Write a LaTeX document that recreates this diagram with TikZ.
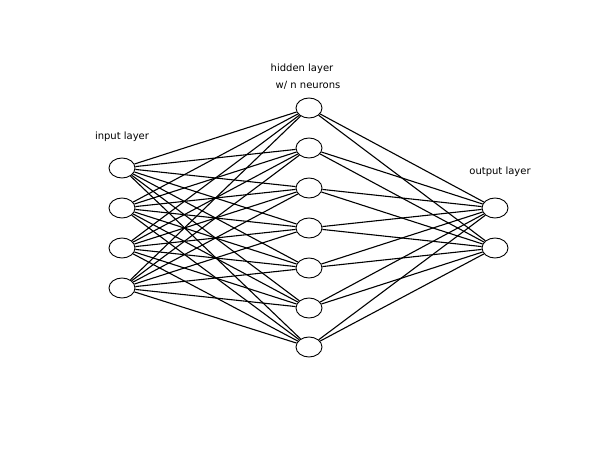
\documentclass[tikz,border=0pt]{standalone}
\usepackage{fontspec}
\setmainfont{DejaVu Sans}
\usetikzlibrary{shapes.geometric}
\begin{document}
\begin{tikzpicture}[x=1pt,y=-1pt,
  neuron/.style={ellipse,draw,line width=0.9pt,minimum width=26pt,minimum height=20pt,inner sep=0pt,fill=white},
  conn/.style={line width=1.1pt},
  lab/.style={font=\fontsize{10}{12}\selectfont}]
\useasboundingbox (0,0) rectangle (602,452);
\foreach \i/\y in {1/168,2/208,3/248,4/288} \node[neuron] (i\i) at (122,\y) {};
\foreach \i/\y in {1/108,2/148,3/188,4/228,5/268,6/308,7/347} \node[neuron] (h\i) at (309,\y) {};
\foreach \i/\y in {1/208,2/248} \node[neuron] (o\i) at (495,\y) {};
\begin{scope}[on background layer/.try]
\foreach \a in {1,...,4} \foreach \b in {1,...,7} \draw[conn] (i\a) -- (h\b);
\foreach \b in {1,...,7} \foreach \c in {1,2} \draw[conn] (h\b) -- (o\c);
\end{scope}
\node[lab] (li) at (122,137) {input layer};
\node[lab] (lh1) at (302,69) {hidden layer};
\node[lab] (lh2) at (308,85) {w/ n neurons};
\node[lab] (lo) at (500,172) {output layer};
\end{tikzpicture}
\end{document}
